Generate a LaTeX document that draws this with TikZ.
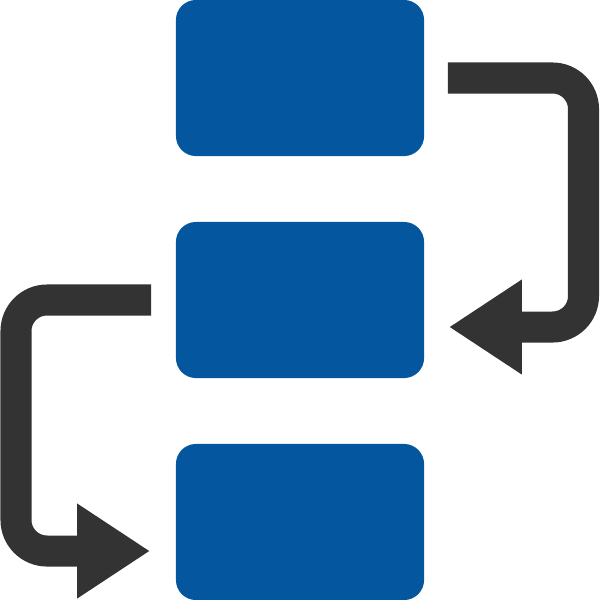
\documentclass[tikz,border=0pt]{standalone}
\usetikzlibrary{arrows.meta,positioning}
\definecolor{boxblue}{RGB}{4,87,159}
\definecolor{arrowgray}{RGB}{51,51,51}

\begin{document}
\begin{tikzpicture}[
    x=0.01cm, y=-0.01cm,
    box/.style={rectangle, fill=boxblue, rounded corners=0.2cm, minimum width=2.48cm, minimum height=1.56cm, inner sep=0pt},
    arrow/.style={draw=arrowgray, line width=0.31cm, rounded corners=0.31cm,
        -{Triangle[length=0.72cm, width=0.95cm, line width=0pt]}}
]
\useasboundingbox (0,0) rectangle (600,600);

% Process boxes
\node[box] (b1) at (300,78) {};
\node[box] (b2) at (300,300) {};
\node[box] (b3) at (300,522) {};

% Arrow end points
\coordinate (r0) at ([xshift=0.23cm]b1.east);
\coordinate (r1) at ([shift={(0.25cm,-0.27cm)}]b2.east);
\coordinate (l0) at ([xshift=-0.24cm]b2.west);
\coordinate (l1) at ([shift={(-0.26cm,-0.29cm)}]b3.west);

% Right loop: top to middle
\draw[arrow] (r0) -- (583.5,78) |- (r1);

% Left loop: middle to bottom
\draw[arrow] (l0) -- (16,300) |- (l1);

\end{tikzpicture}
\end{document}
